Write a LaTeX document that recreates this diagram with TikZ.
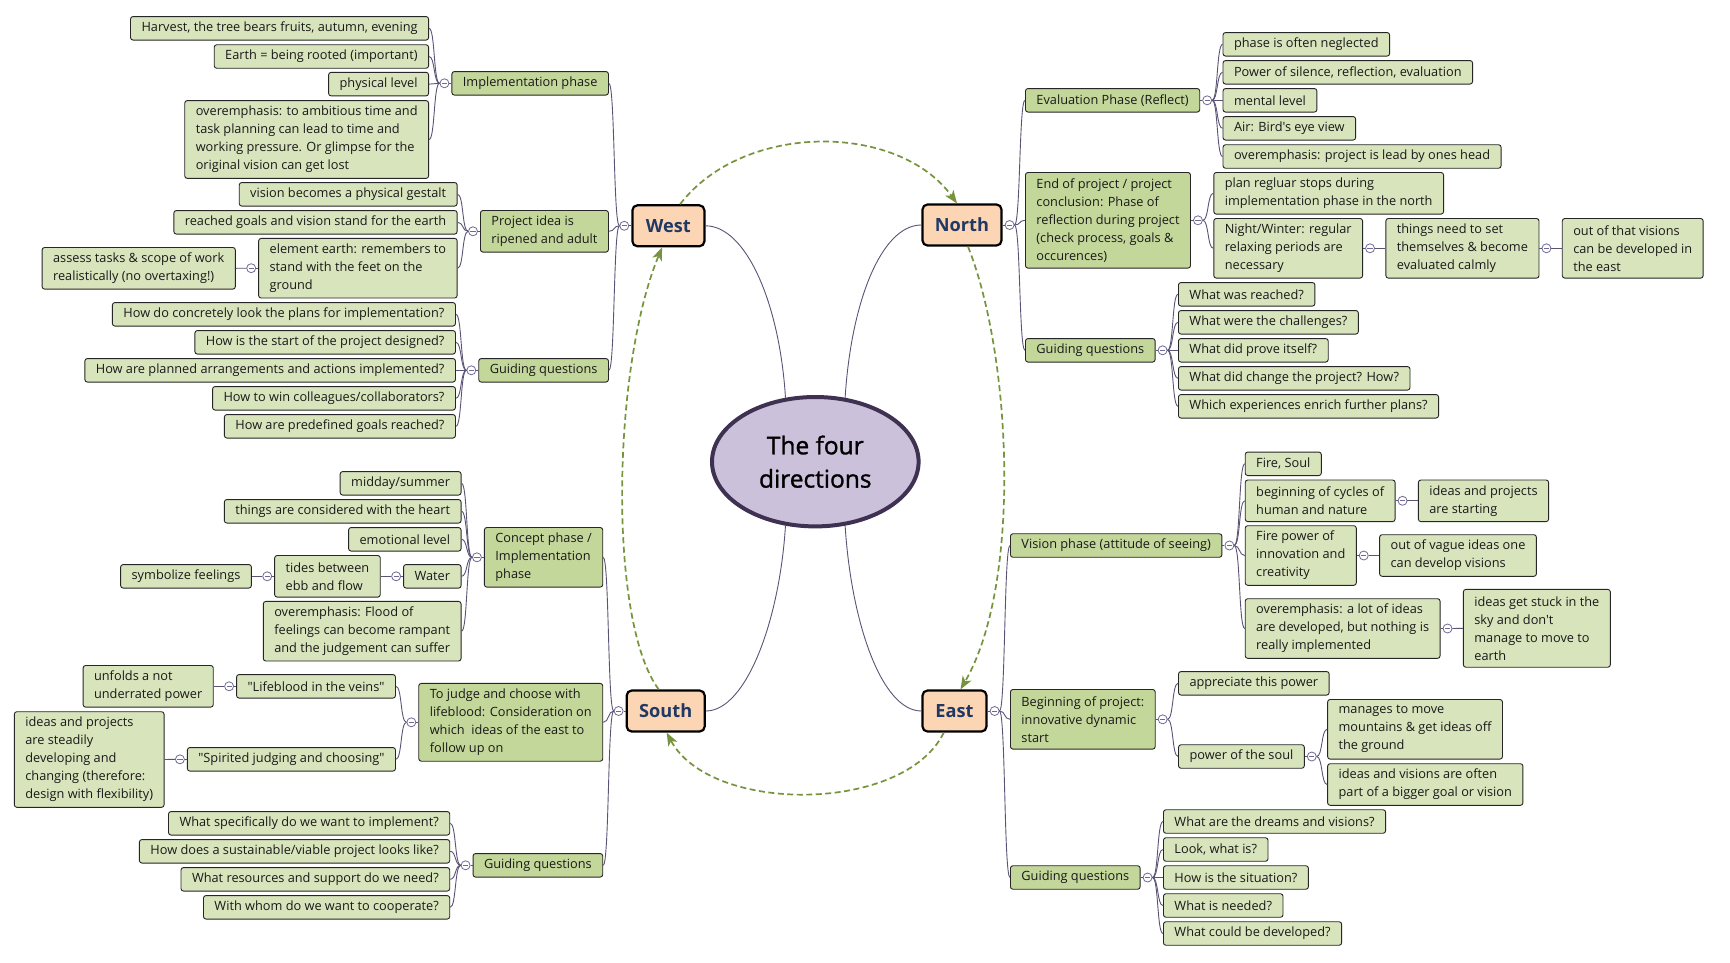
\documentclass[tikz,border=0pt]{standalone}
\usepackage{fontspec}
\setmainfont{Open Sans}[Ligatures=TeXOff]
\newfontfamily\titlefont[FakeBold=1.2]{Open Sans}
\usetikzlibrary{arrows.meta,shapes.geometric,calc}
\definecolor{leafc}{HTML}{D8E4BC}
\definecolor{phasec}{HTML}{C4D79B}
\definecolor{dirc}{HTML}{FCD5B5}
\definecolor{dirtext}{HTML}{1F3864}
\definecolor{ellc}{HTML}{CCC1DA}
\definecolor{ellb}{HTML}{3F3151}
\definecolor{connc}{HTML}{5B5375}
\definecolor{knobc}{HTML}{6E6A93}
\definecolor{arrc}{HTML}{77933C}
\definecolor{boxb}{HTML}{262626}
\newcommand\linkL[2]{\draw[conn] (#1.west) .. controls +(-6,0) and +(6,0) .. (#2.east);}
\newcommand\linkR[2]{\draw[conn] (#1.east) .. controls +(6,0) and +(-6,0) .. (#2.west);}
\newcommand\knobL[2]{\node[knob] (#2) at ([xshift=-7pt]#1.west) {};
  \draw[conn] (#1.west) -- (#2.east);
  \coordinate (x#2) at ([xshift=-10.5pt]#2.west);}
\newcommand\knobR[2]{\node[knob] (#2) at ([xshift=7pt]#1.east) {};
  \draw[conn] (#1.east) -- (#2.west);
  \coordinate (x#2) at ([xshift=10.5pt]#2.east);}
\begin{document}
\begin{tikzpicture}[x=1pt,y=-1pt,
  leaf/.style={draw=boxb, fill=leafc, line width=0.9pt, rounded corners=2.5pt,
    inner xsep=11pt, inner ysep=0pt, align=left,
    font=\fontsize{12.75}{18}\selectfont, text=black!90, minimum height=23.5pt},
  phase/.style={leaf, fill=phasec},
  n2/.style={minimum height=41.6pt},
  n3/.style={minimum height=59.6pt},
  n4/.style={minimum height=77.8pt},
  n5/.style={minimum height=95.6pt},
  dir/.style={draw=black, fill=dirc, line width=2.2pt, rounded corners=5pt,
    minimum height=41pt, inner sep=0pt,
    font=\fontsize{18.2}{22}\selectfont\bfseries, text=dirtext},
  knob/.style={circle, draw=knobc, fill=white, line width=0.8pt, minimum size=9pt,
    inner sep=0pt, path picture={\draw[knobc, line width=0.8pt]
      ([xshift=-2.6pt]path picture bounding box.center) --
      ([xshift=2.6pt]path picture bounding box.center);}},
  conn/.style={draw=connc, line width=0.9pt},
  flow/.style={draw=arrc, line width=1.7pt, dash pattern=on 6pt off 3.5pt,
    -{Stealth[length=13pt,width=10pt,inset=3.5pt]}},
]
\fill[white] (0,0) rectangle (1730,962);
\useasboundingbox (0,0) rectangle (1730,962);

% centre
\node[ellipse, draw=ellb, fill=ellc, line width=4pt, minimum width=206.6pt,
  minimum height=129.4pt, inner sep=0pt, align=center,
  font=\titlefont\fontsize{24.5}{33.3}\selectfont] (C) at (815.3,461.7) {The four\\directions};

\node[dir, minimum width=72pt] (W) at (668.4,225.8) {West};
\node[dir, minimum width=79pt] (N) at (962,225) {North};
\node[dir, minimum width=78pt] (S) at (665.7,711) {South};
\node[dir, minimum width=64pt] (E) at (954.5,711) {East};

\draw[conn] (W.east) .. controls +(40,0) and +(-6,-96) .. (C.115);
\draw[conn] (N.west) .. controls +(-40,0) and +(6,-96) .. (C.65);
\draw[conn] (S.east) .. controls +(40,0) and +(-6,96) .. (C.245);
\draw[conn] (E.west) .. controls +(-40,0) and +(6,96) .. (C.295);

% ---------------- WEST
\knobL{W}{cW}
\node[phase,anchor=east] (Impl) at (xcW |- 0,83.3) {Implementation phase};
\node[phase,n2,anchor=east] (Proj) at (xcW |- 0,231.3) {Project idea is\\ripened and adult};
\node[phase,anchor=east] (GuiW) at (xcW |- 0,370.3) {Guiding questions};
\linkL{cW}{Impl}\linkL{cW}{Proj}\linkL{cW}{GuiW}

\knobL{Impl}{cImpl}
\node[leaf,anchor=east] (Harv) at (xcImpl |- 0,28.3) {Harvest, the tree bears fruits, autumn, evening};
\node[leaf,anchor=east] (Earth) at (xcImpl |- 0,56.5) {Earth = being rooted (important)};
\node[leaf,anchor=east] (Phys) at (xcImpl |- 0,84.1) {physical level};
\node[leaf,n4,anchor=east] (OverW) at (xcImpl |- 0,139.5) {overemphasis: to ambitious time and\\task planning can lead to time and\\working pressure. Or glimpse for the\\original vision can get lost};
\linkL{cImpl}{Harv}\linkL{cImpl}{Earth}\linkL{cImpl}{Phys}\linkL{cImpl}{OverW}

\knobL{Proj}{cProj}
\node[leaf,anchor=east] (Vis) at (xcProj |- 0,194.3) {vision becomes a physical gestalt};
\node[leaf,anchor=east] (Reach) at (xcProj |- 0,222.3) {reached goals and vision stand for the earth};
\node[leaf,n3,anchor=east] (Elem) at (xcProj |- 0,268.2) {element earth: remembers to\\stand with the feet on the\\ground};
\linkL{cProj}{Vis}\linkL{cProj}{Reach}\linkL{cProj}{Elem}
\knobL{Elem}{cElem}
\node[leaf,n2,anchor=east] (Assess) at (xcElem |- 0,268.3) {assess tasks \& scope of work\\realistically (no overtaxing!)};
\linkL{cElem}{Assess}

\knobL{GuiW}{cGuiW}
\node[leaf,anchor=east] (wq1) at (xcGuiW |- 0,314.3) {How do concretely look the plans for implementation?};
\node[leaf,anchor=east] (wq2) at (xcGuiW |- 0,342.3) {How is the start of the project designed?};
\node[leaf,anchor=east] (wq3) at (xcGuiW |- 0,370.3) {How are planned arrangements and actions implemented?};
\node[leaf,anchor=east] (wq4) at (xcGuiW |- 0,398.3) {How to win colleagues/collaborators?};
\node[leaf,anchor=east] (wq5) at (xcGuiW |- 0,426.3) {How are predefined goals reached?};
\linkL{cGuiW}{wq1}\linkL{cGuiW}{wq2}\linkL{cGuiW}{wq3}\linkL{cGuiW}{wq4}\linkL{cGuiW}{wq5}

% ---------------- SOUTH
\knobL{S}{cS}
\node[phase,n3,anchor=east] (Con) at (xcS |- 0,557.3) {Concept phase /\\Implementation\\phase};
\node[phase,n4,anchor=east] (Judge) at (xcS |- 0,722.3) {To judge and choose with\\lifeblood: Consideration on\\which~ ideas of the east to\\follow up on};
\node[phase,anchor=east] (GuiS) at (xcS |- 0,865.3) {Guiding questions};
\linkL{cS}{Con}\linkL{cS}{Judge}\linkL{cS}{GuiS}

\knobL{Con}{cCon}
\node[leaf,anchor=east] (Midday) at (xcCon |- 0,483.3) {midday/summer};
\node[leaf,anchor=east] (Heart) at (xcCon |- 0,511.3) {things are considered with the heart};
\node[leaf,anchor=east] (Emo) at (xcCon |- 0,539.3) {emotional level};
\node[leaf,anchor=east] (Water) at (xcCon |- 0,576.3) {Water};
\node[leaf,n3,anchor=east] (OverS) at (xcCon |- 0,631.2) {overemphasis: Flood of\\feelings can become rampant\\and the judgement can suffer};
\linkL{cCon}{Midday}\linkL{cCon}{Heart}\linkL{cCon}{Emo}\linkL{cCon}{Water}\linkL{cCon}{OverS}
\knobL{Water}{cWater}
\node[leaf,n2,anchor=east] (Tides) at (xcWater |- 0,576.3) {tides between\\ebb and flow};
\linkL{cWater}{Tides}
\knobL{Tides}{cTides}
\node[leaf,anchor=east] (Symb) at (xcTides |- 0,576.3) {symbolize feelings};
\linkL{cTides}{Symb}

\knobL{Judge}{cJudge}
\node[leaf,anchor=east] (Life) at (xcJudge |- 0,686.3) {"Lifeblood in the veins"};
\node[leaf,anchor=east] (Spir) at (xcJudge |- 0,759.3) {"Spirited judging and choosing"};
\linkL{cJudge}{Life}\linkL{cJudge}{Spir}
\knobL{Life}{cLife}
\node[leaf,n2,anchor=east] (Unf) at (xcLife |- 0,686.3) {unfolds a not\\underrated power};
\linkL{cLife}{Unf}
\knobL{Spir}{cSpir}
\node[leaf,n5,anchor=east] (Steady) at (xcSpir |- 0,759.5) {ideas and projects\\are steadily\\developing and\\changing (therefore:\\design with flexibility)};
\linkL{cSpir}{Steady}

\knobL{GuiS}{cGuiS}
\node[leaf,anchor=east] (sq1) at (xcGuiS |- 0,823.3) {What specifically do we want to implement?};
\node[leaf,anchor=east] (sq2) at (xcGuiS |- 0,851.3) {How does a sustainable/viable project looks like?};
\node[leaf,anchor=east] (sq3) at (xcGuiS |- 0,879.3) {What resources and support do we need?};
\node[leaf,anchor=east] (sq4) at (xcGuiS |- 0,907.3) {With whom do we want to cooperate?};
\linkL{cGuiS}{sq1}\linkL{cGuiS}{sq2}\linkL{cGuiS}{sq3}\linkL{cGuiS}{sq4}

% ---------------- NORTH
\knobR{N}{cN}
\node[phase,anchor=west] (Eval) at (xcN |- 0,100.3) {Evaluation Phase (Reflect)};
\node[phase,n5,anchor=west] (End) at (xcN |- 0,220.3) {End of project / project\\conclusion: Phase of\\reflection during project\\(check process, goals \&\\occurences)};
\node[phase,anchor=west] (GuiN) at (xcN |- 0,350.3) {Guiding questions};
\linkR{cN}{Eval}\linkR{cN}{End}\linkR{cN}{GuiN}

\knobR{Eval}{cEval}
\node[leaf,anchor=west] (Negl) at (xcEval |- 0,44.3) {phase is often neglected};
\node[leaf,anchor=west] (Sil) at (xcEval |- 0,72.3) {Power of silence, reflection, evaluation};
\node[leaf,anchor=west] (Ment) at (xcEval |- 0,100.3) {mental level};
\node[leaf,anchor=west] (Air) at (xcEval |- 0,128.3) {Air: Bird's eye view};
\node[leaf,anchor=west] (OverN) at (xcEval |- 0,156.5) {overemphasis: project is lead by ones head};
\linkR{cEval}{Negl}\linkR{cEval}{Sil}\linkR{cEval}{Ment}\linkR{cEval}{Air}\linkR{cEval}{OverN}

\knobR{End}{cEnd}
\node[leaf,n2,anchor=west] (Plan) at (xcEnd |- 0,193.3) {plan regluar stops during\\implementation phase in the north};
\node[leaf,n3,anchor=west] (Night) at (xcEnd |- 0,248.3) {Night/Winter: regular\\relaxing periods are\\necessary};
\linkR{cEnd}{Plan}\linkR{cEnd}{Night}
\knobR{Night}{cNight}
\node[leaf,n3,anchor=west] (Calm) at (xcNight |- 0,248.3) {things need to set\\themselves \& become\\evaluated calmly};
\linkR{cNight}{Calm}
\knobR{Calm}{cCalm}
\node[leaf,n3,anchor=west] (OutOf) at (xcCalm |- 0,248.3) {out of that visions\\can be developed in\\the east};
\linkR{cCalm}{OutOf}

\knobR{GuiN}{cGuiN}
\node[leaf,anchor=west] (nq1) at (xcGuiN |- 0,294.3) {What was reached?};
\node[leaf,anchor=west] (nq2) at (xcGuiN |- 0,322.3) {What were the challenges?};
\node[leaf,anchor=west] (nq3) at (xcGuiN |- 0,350.3) {What did prove itself?};
\node[leaf,anchor=west] (nq4) at (xcGuiN |- 0,378.3) {What did change the project? How?};
\node[leaf,anchor=west] (nq5) at (xcGuiN |- 0,406.3) {Which experiences enrich further plans?};
\linkR{cGuiN}{nq1}\linkR{cGuiN}{nq2}\linkR{cGuiN}{nq3}\linkR{cGuiN}{nq4}\linkR{cGuiN}{nq5}

% ---------------- EAST
\knobR{E}{cE}
\node[phase,anchor=west] (Vision) at (xcE |- 0,545.5) {Vision phase (attitude of seeing)};
\node[phase,n3,anchor=west] (Begin) at (xcE |- 0,719.3) {Beginning of project:\\innovative dynamic\\start};
\node[phase,anchor=west] (GuiE) at (xcE |- 0,877.5) {Guiding questions};
\linkR{cE}{Vision}\linkR{cE}{Begin}\linkR{cE}{GuiE}

\knobR{Vision}{cVis}
\node[leaf,anchor=west] (Fire) at (xcVis |- 0,463.8) {Fire, Soul};
\node[leaf,n2,anchor=west] (Cyc) at (xcVis |- 0,500.8) {beginning of cycles of\\human and nature};
\node[leaf,n3,anchor=west] (FPow) at (xcVis |- 0,555.5) {Fire power of\\innovation and\\creativity};
\node[leaf,n3,anchor=west] (OverE) at (xcVis |- 0,628.5) {overemphasis: a lot of ideas\\are developed, but nothing is\\really implemented};
\linkR{cVis}{Fire}\linkR{cVis}{Cyc}\linkR{cVis}{FPow}\linkR{cVis}{OverE}
\knobR{Cyc}{cCyc}
\node[leaf,n2,anchor=west] (Start) at (xcCyc |- 0,500.8) {ideas and projects\\are starting};
\linkR{cCyc}{Start}
\knobR{FPow}{cFPow}
\node[leaf,n2,anchor=west] (Vague) at (xcFPow |- 0,555.5) {out of vague ideas one\\can develop visions};
\linkR{cFPow}{Vague}
\knobR{OverE}{cOverE}
\node[leaf,n4,anchor=west] (Stuck) at (xcOverE |- 0,628.3) {ideas get stuck in the\\sky and don't\\manage to move to\\earth};
\linkR{cOverE}{Stuck}

\knobR{Begin}{cBegin}
\node[leaf,anchor=west] (Appr) at (xcBegin |- 0,683.3) {appreciate this power};
\node[leaf,anchor=west] (Soul) at (xcBegin |- 0,756.5) {power of the soul};
\linkR{cBegin}{Appr}\linkR{cBegin}{Soul}
\knobR{Soul}{cSoul}
\node[leaf,n3,anchor=west] (Mount) at (xcSoul |- 0,729.3) {manages to move\\mountains \& get ideas off\\the ground};
\node[leaf,n2,anchor=west] (Bigger) at (xcSoul |- 0,784.5) {ideas and visions are often\\part of a bigger goal or vision};
\linkR{cSoul}{Mount}\linkR{cSoul}{Bigger}

\knobR{GuiE}{cGuiE}
\node[leaf,anchor=west] (eq1) at (xcGuiE |- 0,821.5) {What are the dreams and visions?};
\node[leaf,anchor=west] (eq2) at (xcGuiE |- 0,849.5) {Look, what is?};
\node[leaf,anchor=west] (eq3) at (xcGuiE |- 0,877.5) {How is the situation?};
\node[leaf,anchor=west] (eq4) at (xcGuiE |- 0,905.5) {What is needed?};
\node[leaf,anchor=west] (eq5) at (xcGuiE |- 0,933.5) {What could be developed?};
\linkR{cGuiE}{eq1}\linkR{cGuiE}{eq2}\linkR{cGuiE}{eq3}\linkR{cGuiE}{eq4}\linkR{cGuiE}{eq5}

% ---------------- cycle arrows
\draw[flow] ([xshift=11.7pt]W.north) .. controls (743,122) and (898,122) .. ([xshift=-5pt]N.north);
\draw[flow] ([xshift=6pt]N.south) .. controls (1011.4,354.9) and (1022.2,583.3) .. ([xshift=6pt]E.north);
\draw[flow] ([xshift=-10.7pt]E.south) .. controls (903.8,814) and (709.8,814) .. ([xshift=1pt]S.south);
\draw[flow] ([xshift=-7pt]S.north) .. controls (607.7,621) and (612.2,367) .. ([xshift=-6.3pt]W.south);
\end{tikzpicture}
\end{document}
